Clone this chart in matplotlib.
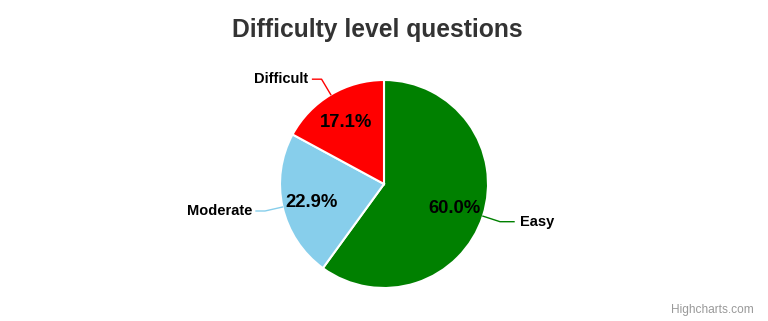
import numpy as np
import matplotlib
matplotlib.use("Agg")
import matplotlib.pyplot as plt

# data
labels = ["Easy", "Moderate", "Difficult"]
values = [60.0, 22.9, 17.1]
colors = ["#008000", "#87CEEB", "#FF0000"]

plt.rcParams['font.family'] = ['Liberation Sans', 'DejaVu Sans']

W, H = 768, 321
fig = plt.figure(figsize=(W / 100, H / 100), dpi=100)
ax = fig.add_axes([0, 0, 1, 1])
ax.set_xlim(0, W)
ax.set_ylim(0, H)
ax.set_aspect('equal')
ax.axis('off')

cx, cy, r = 384, H - 184, 104

wedges, texts, autotexts = ax.pie(values, colors=colors, startangle=90, counterclock=False,
                                  center=(cx, cy), radius=r, autopct='%1.1f%%', pctdistance=0.71,
                                  wedgeprops=dict(edgecolor='white', linewidth=1.5),
                                  textprops=dict(fontsize=13.3, fontweight='bold', color='black'))
for t in autotexts:
    x, y = t.get_position()
    t.set_position((x, y - 2))
ax.set_xlim(0, W)
ax.set_ylim(0, H)

# outer labels with connectors
for w, lab, col in zip(wedges, labels, colors):
    ang = np.deg2rad((w.theta1 + w.theta2) / 2)
    ux, uy = np.cos(ang), np.sin(ang)
    p0 = (cx + r * ux, cy + r * uy)
    p1 = (cx + (r + 18) * ux, cy + (r + 18) * uy)
    side = 1 if ux > 0 else -1
    p2 = (p1[0] + side * (14 if side > 0 else 9), p1[1])
    ax.plot([p0[0], p1[0], p2[0]], [p0[1], p1[1], p2[1]], color=col, lw=1)
    ax.text(p2[0] + side * (6 if side > 0 else 4), p2[1], lab, ha='left' if side > 0 else 'right',
            va='center', fontsize=10.5, fontweight='bold', color='black')

fig.text(377.5 / W, 1 - 30 / H, "Difficulty level questions", ha='center', va='center',
         fontsize=17.7, fontweight='bold', color='#333333')
fig.text(754 / W, 1 - 310 / H, "Highcharts.com", ha='right', va='center',
         fontsize=8.6, color='#999999')

fig.savefig("out.png", dpi=100, facecolor='white')
